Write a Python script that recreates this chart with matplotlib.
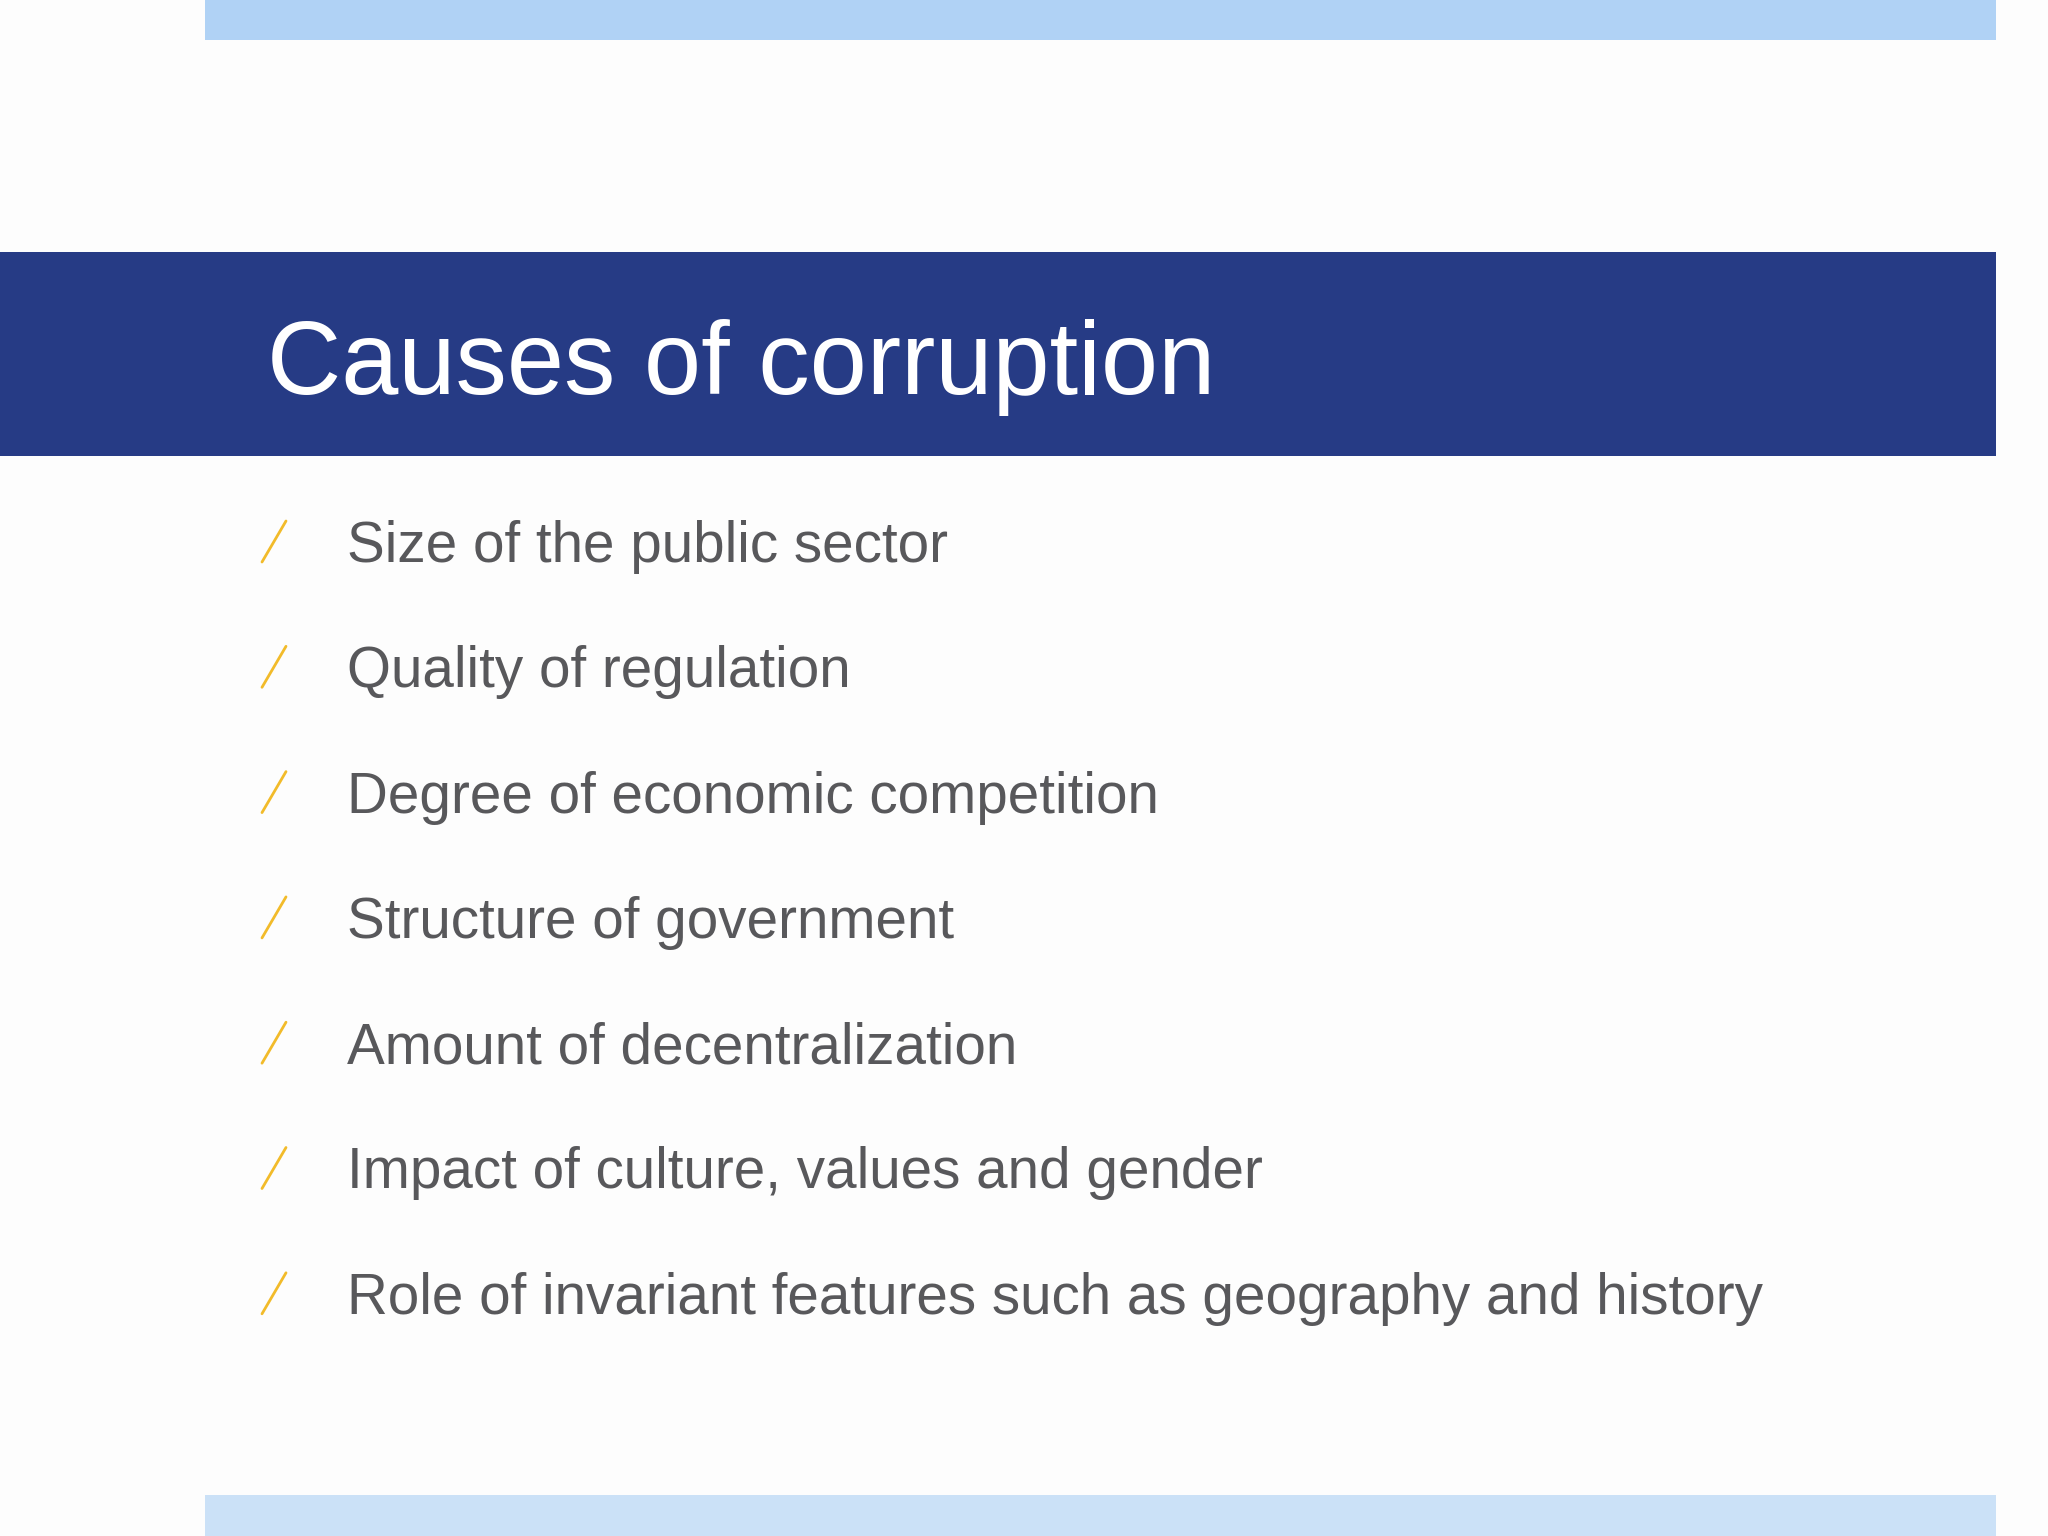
import matplotlib.pyplot as plt
from matplotlib.patches import Rectangle

# slide content
title = "Causes of corruption"
bullets = [
    "Size of the public sector",
    "Quality of regulation",
    "Degree of economic competition",
    "Structure of government",
    "Amount of decentralization",
    "Impact of culture, values and gender",
    "Role of invariant features such as geography and history",
]

W, H = 2048, 1536
fig = plt.figure(figsize=(W / 100, H / 100), dpi=100)
fig.patch.set_facecolor('#fdfdfd')
ax = fig.add_axes([0, 0, 1, 1])
ax.set_xlim(0, W)
ax.set_ylim(H, 0)
ax.axis('off')

# decorative bars
ax.add_patch(Rectangle((205, 0), 1791, 40, color='#b0d2f5', lw=0))
ax.add_patch(Rectangle((0, 252), 1996, 204, color='#263b85', lw=0))
ax.add_patch(Rectangle((205, 1495), 1791, 41, color='#cbe1f7', lw=0))

ax.text(267, 394, title, color='white', fontsize=74, family='Liberation Sans',
        va='baseline', ha='left')

first_base, step = 562, 125.3
for i, item in enumerate(bullets):
    y = first_base + i * step
    ax.plot([262, 286], [y, y - 41], color='#f2bb2a', lw=2.0, solid_capstyle='round')
    ax.text(347, y, item, color='#58585b', fontsize=40.8, family='Liberation Sans',
            va='baseline', ha='left')

plt.savefig('out.png', dpi=100, facecolor=fig.get_facecolor())
plt.close()
